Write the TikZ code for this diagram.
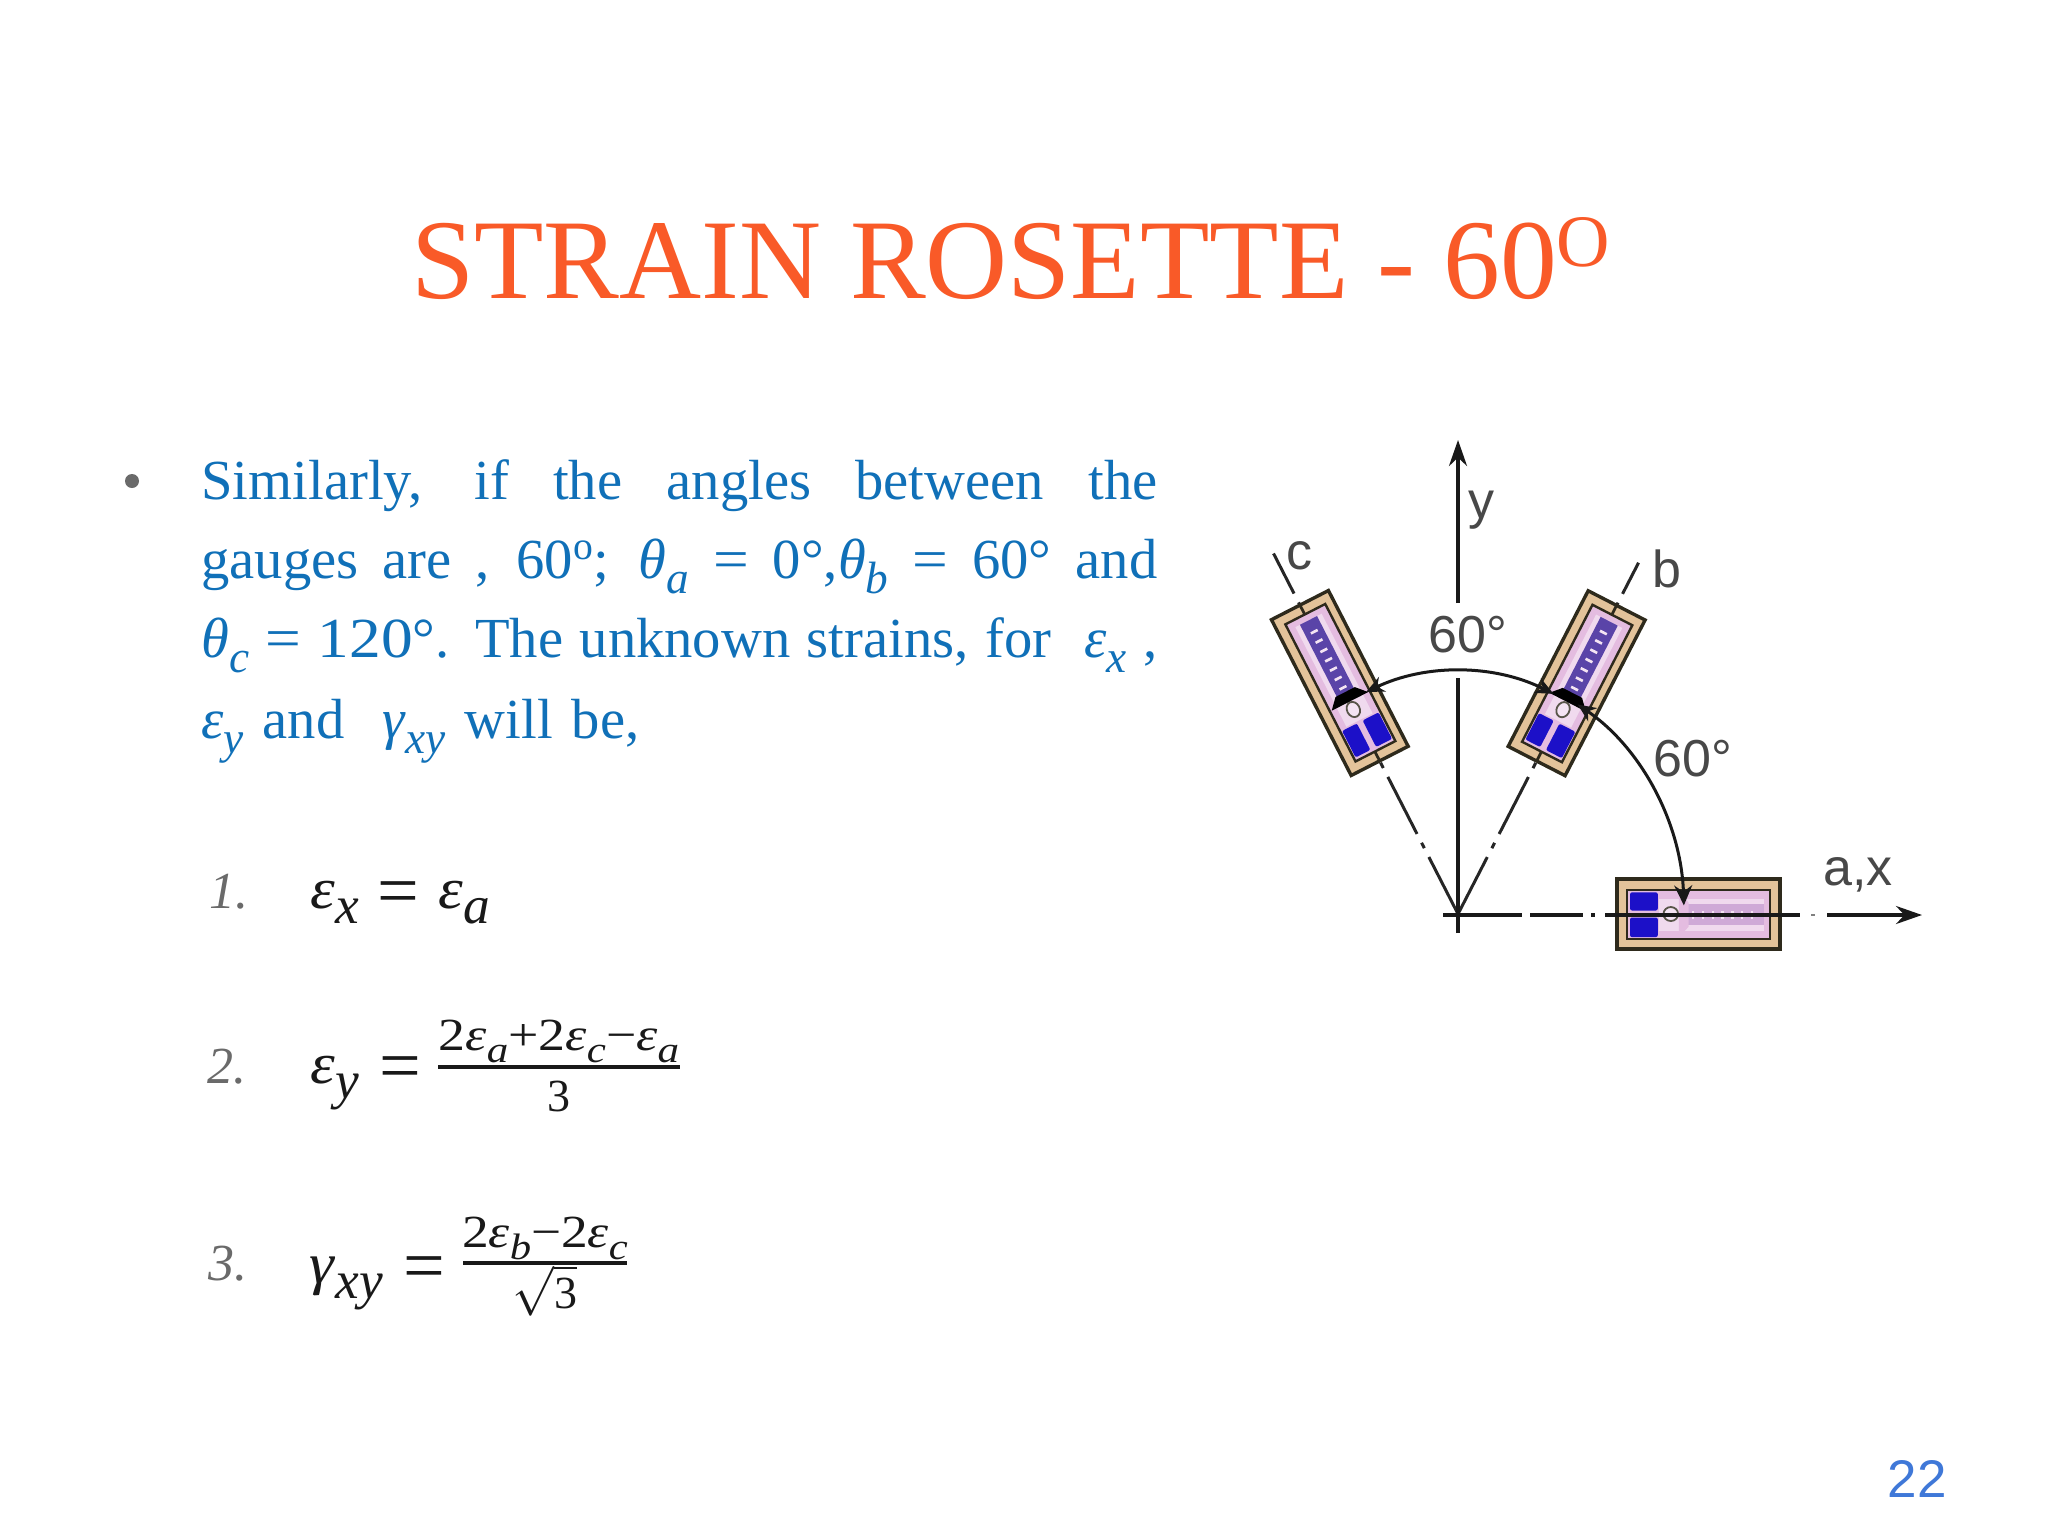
\documentclass[tikz,border=0pt]{standalone}
\usepackage{fontspec}
\usepackage{graphicx}
\setmainfont{Liberation Serif}
\newfontfamily\lsans{Liberation Sans}
\usetikzlibrary{arrows.meta}
\definecolor{titleor}{HTML}{F95A28}
\definecolor{bodyblue}{HTML}{1070B8}
\definecolor{numgray}{HTML}{6A6A6A}
\definecolor{pagenum}{HTML}{3F78D8}
\definecolor{gtan}{HTML}{E3C39A}
\definecolor{gpink}{HTML}{E4BCE0}
\definecolor{gblue}{HTML}{1C10C8}
\definecolor{gcore}{HTML}{5A44A8}
\definecolor{gline}{HTML}{2E2A1C}
\definecolor{lblgray}{HTML}{484848}
\newcommand\vv[2]{\textit{#1}\raisebox{-.28em}{\scalebox{.8}{\itshape #2}}}
\newcommand\vvb[2]{\scalebox{1.08}[1]{\textit{#1}}\raisebox{-.26em}{\scalebox{.92}{\itshape #2}}}
\newcommand\widen[1]{\scalebox{1.12}[1]{#1}}
\newcommand\fs[1]{\fontsize{#1}{#1}\selectfont}
% angle, start distance, length, width, core colour, band colour
\newcommand\gauge[6]{%
\begin{scope}[shift={(axisO)},rotate=#1,xshift=#2*0.5pt,x=#3*0.5pt,y=#4*0.5pt]
  \fill[gtan] (0,-.5) rectangle (1,.5);
  \draw[gline,line width=1.7pt] (0,-.5) rectangle (1,.5);
  \draw[gline,fill=gpink,line width=1.2pt] (.06,-.36) rectangle (.94,.34);
  \fill[white!45!gpink] (.26,-.24) rectangle (.9,.22);
  \fill[#5] (.42,-.16) rectangle (.9,.14);
  \foreach \t in {.46,.52,...,.86}{\fill[white!60!gpink] (\t,-.07) rectangle (\t+.015,.05);}
  \fill[gblue,rounded corners=1pt] (.08,-.33) rectangle (.25,-.05);
  \fill[gblue,rounded corners=1pt] (.08,.05) rectangle (.25,.31);
  \draw[gline!80,fill=white!60!gpink,line width=.9pt] (.33,0) circle[x radius=.045,y radius=.1];
  \fill[#6] (.38,-.33) -- (.44,-.18) -- (.44,.16) -- (.38,.31) -- cycle;
  \draw[gline,line width=1.4pt] (0,0) -- (.06,0) (.94,0) -- (1,0);
\end{scope}}
\tikzset{
  axisln/.style={line width=1.7pt,draw=black!90},
  dashaxis/.style={line width=1.5pt,draw=black!85,dash pattern=on 32pt off 5pt on 3pt off 5pt},
  arrowln/.style={line width=1.5pt,draw=black!90},
  lbl/.style={font=\lsans\fs{26},text=lblgray,inner sep=0pt},
  eqn/.style={font=\fs{29},text=black!90,anchor=base west,inner sep=0pt},
  eqsign/.style={font=\fs{37},text=black!90,anchor=base,inner sep=0pt},
  frac/.style={font=\fs{23},text=black!90,anchor=base,inner sep=0pt},
  num/.style={font=\itshape\fs{26},text=numgray,anchor=base west,inner sep=0pt},
  body/.style={font=\fs{28.3},text=bodyblue,anchor=base west,inner sep=0pt},
  bar/.style={line width=2pt,draw=black!90}
}
\begin{document}
\begin{tikzpicture}[x=0.5pt,y=-0.5pt]
\useasboundingbox[fill=white] (0,0) rectangle (2048,1536);
\node[font=\fs{56.8},text=titleor,anchor=base west,inner sep=0pt] (title) at (411,298) {STRAIN ROSETTE - 60\raisebox{16pt}{\fs{37}O}};
\node[circle,fill=numgray,inner sep=0pt,minimum size=7pt] (bullet) at (132,481) {};
\node[body] (l1) at (201,499) {\makebox[478pt][s]{Similarly, if the angles between the}};
\node[body] (l2) at (201,578) {\makebox[478pt][s]{gauges are , 60\textsuperscript{o}; \vv{θ}{a} \widen{=} 0°,\vv{θ}{b} \widen{=} 60° and}};
\node[body] (l3) at (201,657) {\makebox[478pt][s]{\vv{θ}{c} \widen{=} \widen{120}°. The unknown strains, for \ \vv{ε}{x} ,}};
\node[body] (l4) at (201,738) {\makebox[219pt][s]{\vv{ε}{y} and \ \vv{γ}{xy} will be,}};
% equations
\node[num] (n1) at (209,908) {1.};
\node[num] (n2) at (207,1083) {2.};
\node[num] (n3) at (208,1280) {3.};
\node[eqn] (e1a) at (310,908) {\vvb{ε}{x}};
\node[eqsign] (e1b) at (398,915) {=};
\node[eqn] (e1c) at (438,908) {\vvb{ε}{a}};
\node[eqn] (e2a) at (310,1083) {\vvb{ε}{y}};
\node[eqsign] (e2b) at (400,1090) {=};
\node[frac] (e2n) at (559,1050) {\scalebox{1.17}[1]{2\vv{ε}{a}+2\vv{ε}{c}−\vv{ε}{a}}};
\coordinate (b2l) at (438,1067); \coordinate (b2r) at (680,1067);
\draw[bar] (b2l) -- (b2r);
\node[frac] (e2d) at (559,1111) {3};
\node[eqn] (e3a) at (309,1283) {\vvb{γ}{xy}};
\node[eqsign] (e3b) at (424,1290) {=};
\node[frac] (e3n) at (545,1247) {\scalebox{1.16}[1]{2\vv{ε}{b}−2\vv{ε}{c}}};
\coordinate (b3l) at (463,1263); \coordinate (b3r) at (627,1263);
\draw[bar] (b3l) -- (b3r);
\node[frac] (e3d) at (545,1308) {$\sqrt{\mbox{3}}$};
\node[font=\lsans\fs{26.5},text=pagenum,anchor=base,inner sep=0pt] (page) at (1917,1497) {22};
% rosette
\coordinate (axisO) at (1458,914);
\coordinate (cend) at ([shift={(-117.1:405)}]axisO);
\coordinate (bend) at ([shift={(-62.8:395)}]axisO);
\draw[dashaxis] (axisO) -- (cend);
\draw[dashaxis] (axisO) -- (bend);
\gauge{117.1}{172}{175}{64}{gcore}{black}
\gauge{62.8}{172}{175}{64}{gcore}{black}
\gauge{0}{159}{163}{70}{gpink!85!gcore}{gpink}
% y axis
\coordinate (ybot) at (1458,933); \coordinate (ymid) at (1458,678);
\coordinate (yup) at (1458,603); \coordinate (ytip) at (1458,440);
\draw[axisln] (ybot) -- (ymid);
\draw[axisln,-{Stealth[length=13pt,width=9pt]}] (yup) -- (ytip);
% x axis
\coordinate (x0) at (1443,915); \coordinate (x1) at (1522,915);
\coordinate (x2) at (1530,915); \coordinate (x3) at (1534,915);
\coordinate (x4) at (1583,915); \coordinate (x5) at (1591,915);
\coordinate (x6) at (1595,915); \coordinate (x7) at (1605,915);
\coordinate (x8) at (1800,915); \coordinate (x9) at (1811,915);
\coordinate (x10) at (1815,915); \coordinate (x11) at (1827,915);
\coordinate (xtip) at (1922,915);
\draw[axisln] (x0) -- (x1) (x2) -- (x3) (x3) -- (x4) (x5) -- (x6) (x7) -- (x8);
\draw[axisln,draw=gray,line width=1.2pt] (x9) -- (x10);
\draw[axisln,-{Stealth[length=13pt,width=9pt]}] (x11) -- (xtip);
% angle arcs
\draw[arrowln,{Stealth[length=9pt,width=8pt]}-{Stealth[length=9pt,width=8pt]},shift={(axisO)}] (-65:226 and 243) arc[start angle=-65,end angle=-114,x radius=226,y radius=243];
\draw[arrowln,{Stealth[length=9pt,width=8pt]}-{Stealth[length=10pt,width=9pt]},shift={(axisO)}] (-58:226 and 247) arc[start angle=-58,end angle=-2,x radius=226,y radius=247];
% labels
\node[lbl] (lb60a) at (1468,635) {60°};
\node[lbl] (lb60b) at (1693,759) {60°};
\node[lbl] (lby) at (1481,510) {y};
\node[lbl] (lbc) at (1299,556) {c};
\node[lbl] (lbb) at (1667,569) {b};
\node[lbl] (lbax) at (1858,875) {a,x};
\end{tikzpicture}
\end{document}
